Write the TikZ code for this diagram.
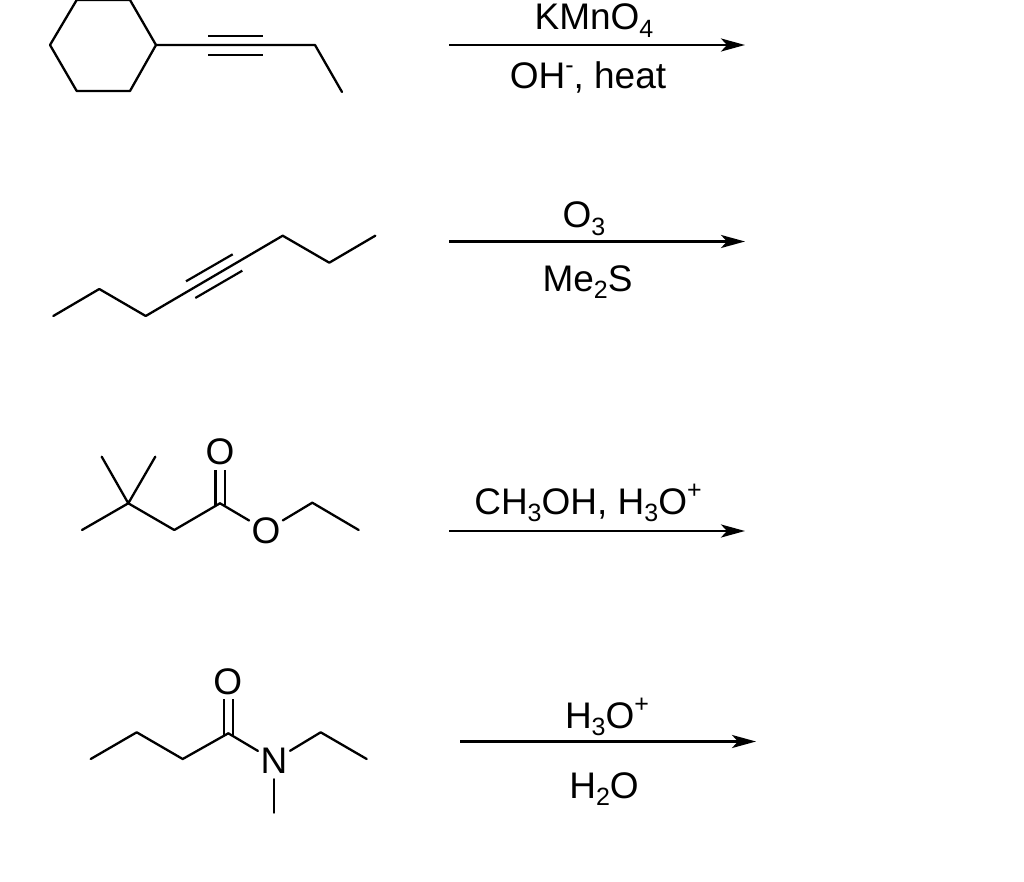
\documentclass[tikz,border=0pt]{standalone}
\usepackage{fontspec}
\setmainfont{Liberation Sans}
\usetikzlibrary{arrows.meta}
\newcommand{\sbs}[1]{\raisebox{-0.2em}{\fontsize{25}{25}\selectfont #1}}
\newcommand{\sps}[1]{\raisebox{0.42em}{\fontsize{25}{25}\selectfont #1}}
\tikzset{
  bond/.style={line width=2.3pt,line join=round,line cap=round,black},
  thinbond/.style={line width=2.2pt,black},
  rxn/.style={line width=2.8pt,black,-{Stealth[length=24pt,width=13pt,inset=6pt]}},
  reagent/.style={anchor=base,inner sep=0pt,font=\fontsize{37}{37}\selectfont},
  atom/.style={circle,minimum size=37pt,inner sep=0pt,font=\fontsize{37}{37}\selectfont}
}
\begin{document}
\begin{tikzpicture}[x=1pt,y=-1pt]
\useasboundingbox (0,0) rectangle (1024,882);
\fill[white] (0,0) rectangle (1024,882);
% molecule 1
\coordinate (a1) at (50,45);
\coordinate (a2) at (76.7,0);
\coordinate (a3) at (130,0);
\coordinate (a4) at (156,45);
\coordinate (a5) at (130,91);
\coordinate (a6) at (76.7,91);
\coordinate (a7) at (315,45);
\coordinate (a8) at (342,92);
\coordinate (t1a) at (208,36);
\coordinate (t1b) at (263,36);
\coordinate (t2a) at (208,55);
\coordinate (t2b) at (263,55);
\draw[bond] (a1)--(a2)--(a3)--(a4)--(a5)--(a6)--cycle;
\draw[bond] (a4)--(a7)--(a8);
\draw[thinbond] (t1a)--(t1b);
\draw[thinbond] (t2a)--(t2b);
% molecule 2
\coordinate (b1) at (53.3,316);
\coordinate (b2) at (99.3,289);
\coordinate (b3) at (145.7,316);
\coordinate (b4) at (282.7,235.7);
\coordinate (b5) at (329.3,262.7);
\coordinate (b6) at (375.3,235.7);
\coordinate (u1a) at (186,281.3);
\coordinate (u1b) at (232.7,254.3);
\coordinate (u2a) at (195.3,298);
\coordinate (u2b) at (242.3,270.7);
\draw[bond] (b1)--(b2)--(b3)--(b4)--(b5)--(b6);
\draw[thinbond] (u1a)--(u1b);
\draw[thinbond] (u2a)--(u2b);
% molecule 3
\coordinate (c1) at (82,530);
\coordinate (c2) at (128.3,503.3);
\coordinate (c3) at (101.7,456.7);
\coordinate (c4) at (155.3,456.7);
\coordinate (c5) at (174.3,530);
\coordinate (c6) at (220,503.3);
\coordinate (c7) at (312.3,502.7);
\coordinate (c8) at (358.7,530);
\coordinate (cd1a) at (215.5,470);
\coordinate (cd1b) at (215.5,505.5);
\coordinate (cd2a) at (225,470);
\coordinate (cd2b) at (225,505);
\node[atom] (cO) at (220,451.5) {O};
\node[atom] (cE) at (266,530.5) {O};
\draw[bond] (c1)--(c2)--(c5)--(c6);
\draw[bond] (c3)--(c2)--(c4);
\draw[bond] (c6)--(cE)--(c7)--(c8);
\draw[thinbond] (cd1a)--(cd1b);
\draw[thinbond] (cd2a)--(cd2b);
% molecule 4
\coordinate (d1) at (90.7,759);
\coordinate (d2) at (136.7,732.3);
\coordinate (d3) at (182.7,759);
\coordinate (d4) at (228.3,733.3);
\coordinate (d5) at (320.7,732.3);
\coordinate (d6) at (366.7,759);
\coordinate (d7) at (274,812.7);
\coordinate (dd1a) at (223.7,699.3);
\coordinate (dd1b) at (223.7,735.5);
\coordinate (dd2a) at (233.3,699.3);
\coordinate (dd2b) at (233.3,735);
\node[atom] (dO) at (227.7,681.5) {O};
\node[atom] (dN) at (274,760.5) {N};
\draw[bond] (d1)--(d2)--(d3)--(d4);
\draw[bond] (d4)--(dN)--(d5)--(d6);
\draw[bond] (dN)--(d7);
\draw[thinbond] (dd1a)--(dd1b);
\draw[thinbond] (dd2a)--(dd2b);
% arrows
\coordinate (r1a) at (449,45);
\coordinate (r1b) at (745,45);
\coordinate (r2a) at (449,241.5);
\coordinate (r2b) at (745,241.5);
\coordinate (r3a) at (449,531);
\coordinate (r3b) at (745,531);
\coordinate (r4a) at (460,741.5);
\coordinate (r4b) at (756,741.5);
\draw[rxn] (r1a)--(r1b);
\draw[rxn] (r2a)--(r2b);
\draw[rxn] (r3a)--(r3b);
\draw[rxn] (r4a)--(r4b);
% reagents
\node[reagent] (k1) at (594,30) {KMnO\sbs{4}};
\node[reagent] (k2) at (588,89) {OH\sps{-}, heat};
\node[reagent] (k3) at (584,228) {O\sbs{3}};
\node[reagent] (k4) at (587.5,291) {Me\sbs{2}S};
\node[reagent] (k5) at (588,514) {CH\sbs{3}OH, H\sbs{3}O\sps{+}};
\node[reagent] (k6) at (607,728) {H\sbs{3}O\sps{+}};
\node[reagent] (k7) at (604,798) {H\sbs{2}O};
\end{tikzpicture}
\end{document}
